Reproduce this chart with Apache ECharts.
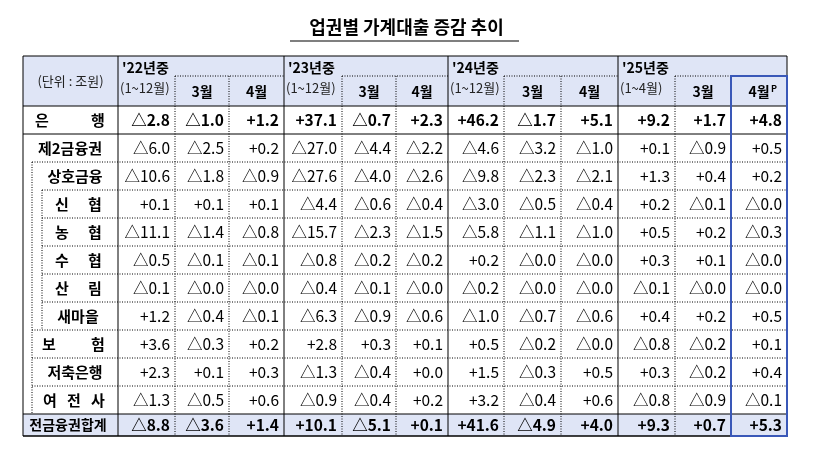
<!DOCTYPE html>
<html><head><meta charset="utf-8">
<script src="https://cdn.jsdelivr.net/npm/echarts@6/dist/echarts.min.js"></script>
<style>html,body{margin:0;padding:0;background:#fff}#c{width:813px;height:461px}</style>
</head><body><div id="c"></div>
<script>
var title = '업권별 가계대출 증감 추이';
var unitLabel = '(단위 : 조원)';
var groupLabels = ["'22년중", "'23년중", "'24년중", "'25년중"];
var groupSubs = ['(1~12월)', '(1~12월)', '(1~12월)', '(1~4월)'];
var monthLabels = ['3월', '4월'];
var rowLabels = ['은행','제2금융권','상호금융','신협','농협','수협','산림','새마을','보험','저축은행','여전사','전금융권합계'];
var y22  = ['△2.8','△6.0','△10.6','+0.1','△11.1','△0.5','△0.1','+1.2','+3.6','+2.3','△1.3','△8.8'];
var m22_3= ['△1.0','△2.5','△1.8','+0.1','△1.4','△0.1','△0.0','△0.4','△0.3','+0.1','△0.5','△3.6'];
var m22_4= ['+1.2','+0.2','△0.9','+0.1','△0.8','△0.1','△0.0','△0.1','+0.2','+0.3','+0.6','+1.4'];
var y23  = ['+37.1','△27.0','△27.6','△4.4','△15.7','△0.8','△0.4','△6.3','+2.8','△1.3','△0.9','+10.1'];
var m23_3= ['△0.7','△4.4','△4.0','△0.6','△2.3','△0.2','△0.1','△0.9','+0.3','△0.4','△0.4','△5.1'];
var m23_4= ['+2.3','△2.2','△2.6','△0.4','△1.5','△0.2','△0.0','△0.6','+0.1','+0.0','+0.2','+0.1'];
var y24  = ['+46.2','△4.6','△9.8','△3.0','△5.8','+0.2','△0.2','△1.0','+0.5','+1.5','+3.2','+41.6'];
var m24_3= ['△1.7','△3.2','△2.3','△0.5','△1.1','△0.0','△0.0','△0.7','△0.2','△0.3','△0.4','△4.9'];
var m24_4= ['+5.1','△1.0','△2.1','△0.4','△1.0','△0.0','△0.0','△0.6','△0.0','+0.5','+0.6','+4.0'];
var y25  = ['+9.2','+0.1','+1.3','+0.2','+0.5','+0.3','△0.1','+0.4','△0.8','+0.3','△0.8','+9.3'];
var m25_3= ['+1.7','△0.9','+0.4','△0.1','+0.2','+0.1','△0.0','+0.2','△0.2','△0.2','△0.9','+0.7'];
var m25_4= ['+4.8','+0.5','+0.2','△0.0','△0.3','△0.0','△0.0','+0.5','+0.1','+0.4','△0.1','+5.3'];
var columns = [y22,m22_3,m22_4,y23,m23_3,m23_4,y24,m24_3,m24_4,y25,m25_3,m25_4];

// layout (table units)
var colEdges = [0,95,152,206,261,319,373,425,481,538,595,652,708,764];
var rowEdges = [0,50]; for (var k=1;k<=11;k++) rowEdges.push(50+28*k); rowEdges.push(380);
// per-row label layout: either per-character centers or a single center
var labelCharX = {0:[19,75],3:[39,72],4:[39,72],5:[39,72],6:[39,72],8:[26,75],10:[27,51,75]};
var labelCenter = {1:47,2:52,7:55,9:52,11:45};
var FONT = '"Noto Sans CJK KR","Noto Sans",sans-serif';
var BOLDROWS = {0:1,11:1};

var cells = [];
for (var r=0;r<rowLabels.length;r++){
  cells.push([-1,r,rowLabels[r]]);
  for (var c=0;c<columns.length;c++) cells.push([c,r,columns[c][r]]);
}

function seg(api,x1,y1,x2,y2,dash,w,color){
  var p1=api.coord([x1,y1]), p2=api.coord([x2,y2]);
  return {type:'line',shape:{x1:p1[0],y1:p1[1],x2:p2[0],y2:p2[1]},
    style:{stroke:color||'#000',lineWidth:w||1,lineDash:dash?[1,1.5]:null}};
}

function renderFrame(params, api){
  var ch=[];
  var W=764,H=380;
  function rect(x1,y1,x2,y2,fill){var a=api.coord([x1,y1]),b=api.coord([x2,y2]);
    return {type:'rect',shape:{x:a[0],y:a[1],width:b[0]-a[0],height:b[1]-a[1]},style:{fill:fill}};}
  ch.push(rect(0,0,W,50,'#dfe5f6'));
  ch.push(rect(0,358,W,380,'#dfe5f6'));
  var u=api.coord([47.5,25]);
  ch.push({type:'text',x:u[0],y:u[1],style:{text:unitLabel,fill:'#222',font:'13px '+FONT,align:'center',verticalAlign:'middle'}});
  for (var g=0;g<4;g++){
    var x0=colEdges[1+g*3], xe=colEdges[4+g*3];
    var p=api.coord([x0+4,12]);
    ch.push({type:'text',x:p[0],y:p[1],style:{text:groupLabels[g],fill:'#000',font:'bold 14px '+FONT,verticalAlign:'middle'}});
    var q=api.coord([x0+2,32]);
    ch.push({type:'text',x:q[0],y:q[1],style:{text:groupSubs[g],fill:'#222',font:'13px '+FONT,verticalAlign:'middle'}});
    for (var m=0;m<2;m++){
      var cx=(colEdges[2+g*3+m]+colEdges[3+g*3+m])/2;
      var mp=api.coord([cx,36]);
      ch.push({type:'text',x:mp[0],y:mp[1],style:{text:monthLabels[m],fill:'#000',font:'bold 14px '+FONT,align:'center',verticalAlign:'middle'}});
    }
    if(g===3){
      var sp=api.coord([(colEdges[12]+colEdges[13])/2+12,33]);
      ch.push({type:'text',x:sp[0],y:sp[1],style:{text:'P',fill:'#000',font:'bold 9px '+FONT,verticalAlign:'middle'}});
    }
    ch.push(seg(api,colEdges[2+g*3],20,xe,20,true));
    ch.push(seg(api,colEdges[2+g*3],20,colEdges[2+g*3],50,true));
    ch.push(seg(api,colEdges[3+g*3],20,colEdges[3+g*3],50,true));
    if (g>0) ch.push(seg(api,x0,0,x0,H,false));
  }
  for (var g2=0;g2<4;g2++){
    ch.push(seg(api,colEdges[2+g2*3],50,colEdges[2+g2*3],H,true));
    ch.push(seg(api,colEdges[3+g2*3],50,colEdges[3+g2*3],H,true));
  }
  for (var r=1;r<=11;r++){
    var y=rowEdges[r+1];
    if (r===1||r===11) { ch.push(seg(api,0,y,W,y,false)); continue; }
    if (r>=3 && r<=7) ch.push(seg(api,19,y,W,y,true));
    else ch.push(seg(api,9,y,W,y,true));
  }
  ch.push(seg(api,9,rowEdges[3],9,rowEdges[12],true));
  ch.push(seg(api,19,rowEdges[4],19,rowEdges[9],true));
  ch.push(seg(api,95,0,95,H,false));
  ch.push(seg(api,0,50,W,50,false));
  ch.push(seg(api,0,0,W,0,false));
  ch.push(seg(api,0,H,W,H,false,1.5));
  ch.push(seg(api,0,0,0,H,false));
  ch.push(seg(api,W,0,W,H,false));
  var a=api.coord([708,20]),b=api.coord([764,H]);
  ch.push({type:'rect',shape:{x:a[0],y:a[1],width:b[0]-a[0],height:b[1]-a[1]},style:{fill:null,stroke:'#3a58b8',lineWidth:2}});
  return {type:'group',children:ch};
}

function renderCell(params, api){
  var c=api.value(0), r=api.value(1), txt=cells[params.dataIndex][2];
  var yc=(rowEdges[r+1]+rowEdges[r+2])/2;
  var bold = BOLDROWS[r] || c<0;
  if (c<0){
    var sz = r===11 ? 14 : 15;
    var f='bold '+sz+'px '+FONT;
    if (labelCharX[r]){
      var xs=labelCharX[r], kids=[];
      for (var i=0;i<xs.length;i++){
        var p=api.coord([xs[i],yc]);
        kids.push({type:'text',x:p[0],y:p[1],style:{text:txt.charAt(i),fill:'#000',font:f,align:'center',verticalAlign:'middle'}});
      }
      return {type:'group',children:kids};
    }
    var p1=api.coord([labelCenter[r],yc]);
    return {type:'text',x:p1[0],y:p1[1],style:{text:txt,fill:'#000',font:f,align:'center',verticalAlign:'middle'}};
  }
  var p2=api.coord([colEdges[c+2]-5,yc]);
  return {type:'text',x:p2[0],y:p2[1],style:{text:txt,fill:'#000',font:(bold?'bold ':'')+'15.5px '+FONT,align:'right',verticalAlign:'middle'}};
}

var chart=echarts.init(document.getElementById('c'));
chart.setOption({
  animation:false,
  title:{text:title,left:'center',top:13,textStyle:{fontFamily:FONT,fontSize:18,fontWeight:'bold',color:'#000'}},
  graphic:[{type:'line',shape:{x1:290,y1:41,x2:519,y2:41},style:{stroke:'#000',lineWidth:1.2}}],
  grid:{left:23,top:56,width:764,height:380},
  xAxis:{type:'value',min:0,max:764,show:false},
  yAxis:{type:'value',min:0,max:380,inverse:true,show:false},
  series:[
    {type:'custom',renderItem:renderFrame,data:[[0,0]],silent:true,z:1},
    {type:'custom',renderItem:renderCell,data:cells.map(function(d){return [d[0],d[1]];}),silent:true,z:2}
  ]
});
</script></body></html>
